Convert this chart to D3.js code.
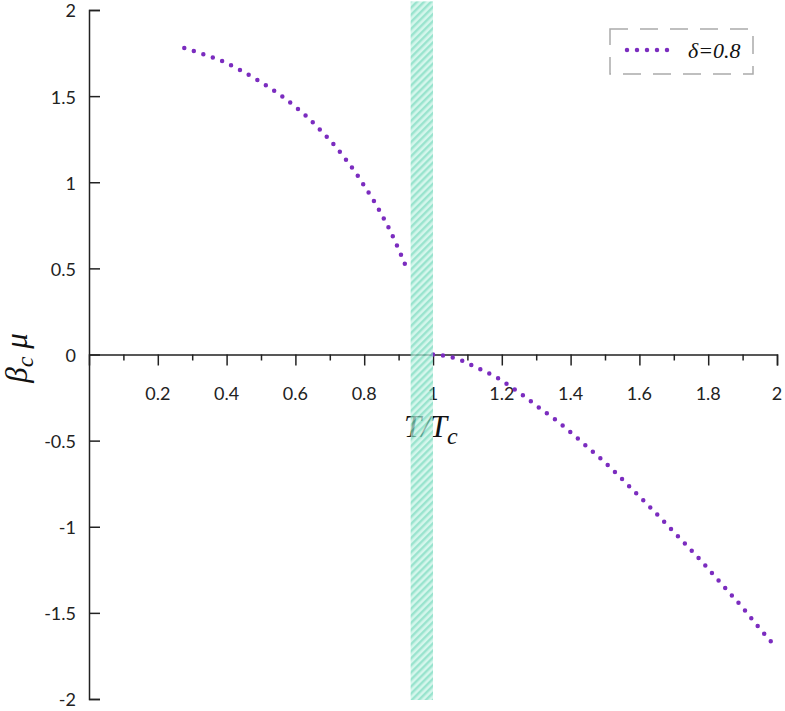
<!DOCTYPE html>
<html>
<head>
<meta charset="utf-8">
<script src="https://cdn.jsdelivr.net/npm/d3@7"></script>
<style>
  html, body { margin: 0; padding: 0; background: #fff; }
  svg { display: block; }
</style>
</head>
<body>
<div id="chart"></div>
<script>
// data
const lowBranchT = [0.277, 0.33, 0.389, 0.44, 0.492, 0.53, 0.566, 0.60, 0.634, 0.665, 0.696, 0.725, 0.752, 0.778, 0.802, 0.826, 0.848, 0.869, 0.888, 0.906, 0.923];
const lowBranchMu = [1.779, 1.745, 1.702, 1.650, 1.591, 1.543, 1.492, 1.438, 1.380, 1.318, 1.254, 1.187, 1.118, 1.047, 0.973, 0.898, 0.822, 0.744, 0.665, 0.584, 0.502];
const highBranchT = [1.0, 1.03, 1.059, 1.088, 1.115, 1.155, 1.195, 1.23, 1.265, 1.31, 1.36, 1.405, 1.45, 1.495, 1.537, 1.578, 1.619, 1.66, 1.701, 1.741, 1.781, 1.82, 1.86, 1.9, 1.937, 1.994];
const highBranchMu = [0.0, -0.006, -0.019, -0.038, -0.064, -0.102, -0.145, -0.192, -0.242, -0.311, -0.384, -0.46, -0.539, -0.618, -0.698, -0.78, -0.862, -0.946, -1.033, -1.116, -1.201, -1.289, -1.379, -1.469, -1.56, -1.692];
const bandRange = [0.935, 1.0];
const xTicks = [0.2, 0.4, 0.6, 0.8, 1, 1.2, 1.4, 1.6, 1.8, 2];
const xMinorTicks = [0.1, 0.3, 0.5, 0.7, 0.9, 1.1, 1.3, 1.5, 1.7, 1.9];
const yTicks = [-2, -1.5, -1, -0.5, 0, 0.5, 1, 1.5, 2];
const seriesLabel = 'δ=0.8';

const width = 785, height = 711;
const curveColor = '#7b2cbf';
const serif = '"Liberation Serif", "DejaVu Serif", serif';

const svg = d3.select('#chart')
    .append('svg')
    .attr('width', width)
    .attr('height', height);

const x = d3.scaleLinear().domain([0, 2]).range([89, 777]);
const y = d3.scaleLinear().domain([-2, 2]).range([699, 10]);

// hatch pattern for the band
const defs = svg.append('defs');
const pat = defs.append('pattern')
    .attr('id', 'hatch')
    .attr('patternUnits', 'userSpaceOnUse')
    .attr('width', 5)
    .attr('height', 5)
    .attr('patternTransform', 'rotate(45)');
pat.append('rect').attr('width', 5).attr('height', 5).attr('fill', '#c4f2e4');
pat.append('rect').attr('width', 2.4).attr('height', 5).attr('fill', '#72d9bb');

// axes
const axisColor = '#222';
const yAxis = d3.axisRight(y)
    .tickValues(yTicks)
    .tickSize(11)
    .tickFormat('');
svg.append('g')
    .attr('transform', `translate(${x(0)},0)`)
    .call(yAxis)
    .call(g => g.select('.domain').attr('stroke', axisColor).attr('stroke-width', 1.5))
    .call(g => g.selectAll('.tick line').attr('stroke', axisColor).attr('stroke-width', 1.5));

const xAxis = d3.axisBottom(x)
    .tickValues(xTicks)
    .tickSize(11)
    .tickFormat('');
svg.append('g')
    .attr('transform', `translate(0,${y(0)})`)
    .call(xAxis)
    .call(g => g.select('.domain').attr('stroke', axisColor).attr('stroke-width', 1.5))
    .call(g => g.selectAll('.tick line').attr('stroke', axisColor).attr('stroke-width', 1.5));

svg.append('g')
    .attr('transform', `translate(0,${y(0)})`)
    .call(d3.axisBottom(x).tickValues(xMinorTicks).tickSize(6).tickFormat(''))
    .call(g => g.select('.domain').remove())
    .call(g => g.selectAll('.tick line').attr('stroke', axisColor).attr('stroke-width', 1.5));

// tick labels (plain hyphen minus, as in the original)
svg.append('g')
    .selectAll('text')
    .data(xTicks)
    .enter()
    .append('text')
    .attr('x', d => x(d))
    .attr('y', y(0) + 45)
    .attr('text-anchor', 'middle')
    .attr('font-family', 'Lato, sans-serif')
    .attr('font-size', 18)
    .attr('fill', '#222')
    .text(d => String(d));

svg.append('g')
    .selectAll('text')
    .data(yTicks)
    .enter()
    .append('text')
    .attr('x', 76)
    .attr('y', d => y(d) + 1)
    .attr('dy', '0.36em')
    .attr('text-anchor', 'end')
    .attr('font-family', 'Lato, sans-serif')
    .attr('font-size', 18)
    .attr('fill', '#222')
    .text(d => String(d));

// axis titles
const xTitle = svg.append('text')
    .attr('x', 404)
    .attr('y', 437)
    .attr('font-family', serif)
    .attr('font-style', 'italic')
    .attr('font-size', 31)
    .attr('fill', '#111');
xTitle.append('tspan').text('T/T');
xTitle.append('tspan').attr('dy', 7).attr('font-size', 24).text('c');

const yTitle = svg.append('text')
    .attr('transform', 'translate(27,358) rotate(-90)')
    .attr('text-anchor', 'middle')
    .attr('font-family', serif)
    .attr('font-style', 'italic')
    .attr('font-size', 31)
    .attr('fill', '#111');
yTitle.append('tspan').text('β');
yTitle.append('tspan').attr('dy', 6).attr('font-size', 24).text('c');
yTitle.append('tspan').attr('dy', -6).text(' μ');

// curves
const line = d3.line()
    .x(d => x(d[0]))
    .y(d => y(d[1]))
    .curve(d3.curveMonotoneX);

const branches = [
    d3.zip(lowBranchT, lowBranchMu),
    d3.zip(highBranchT, highBranchMu)
];

svg.append('g')
    .selectAll('path')
    .data(branches)
    .enter()
    .append('path')
    .attr('d', line)
    .attr('fill', 'none')
    .attr('stroke', curveColor)
    .attr('stroke-width', 4.5)
    .attr('stroke-linecap', 'round')
    .attr('stroke-dasharray', '0 10');

// shaded band (on top of the title, see-through)
svg.append('rect')
    .attr('x', x(bandRange[0]))
    .attr('y', y(2.05))
    .attr('width', x(bandRange[1]) - x(bandRange[0]))
    .attr('height', y(-2) - y(2.05) + 1)
    .attr('fill', 'url(#hatch)')
    .attr('opacity', 0.72);

// legend
const legend = svg.append('g');
legend.append('rect')
    .attr('x', 610)
    .attr('y', 29)
    .attr('width', 143)
    .attr('height', 45)
    .attr('fill', 'none')
    .attr('stroke', '#aaa')
    .attr('stroke-width', 1.5)
    .attr('stroke-dasharray', '18 12');
legend.append('line')
    .attr('x1', 627)
    .attr('x2', 668)
    .attr('y1', 50)
    .attr('y2', 50)
    .attr('stroke', curveColor)
    .attr('stroke-width', 4.5)
    .attr('stroke-linecap', 'round')
    .attr('stroke-dasharray', '0 10');
legend.append('text')
    .attr('x', 688)
    .attr('y', 58)
    .attr('font-family', serif)
    .attr('font-style', 'italic')
    .attr('font-size', 22)
    .attr('fill', '#111')
    .text(seriesLabel);
</script>
</body>
</html>
